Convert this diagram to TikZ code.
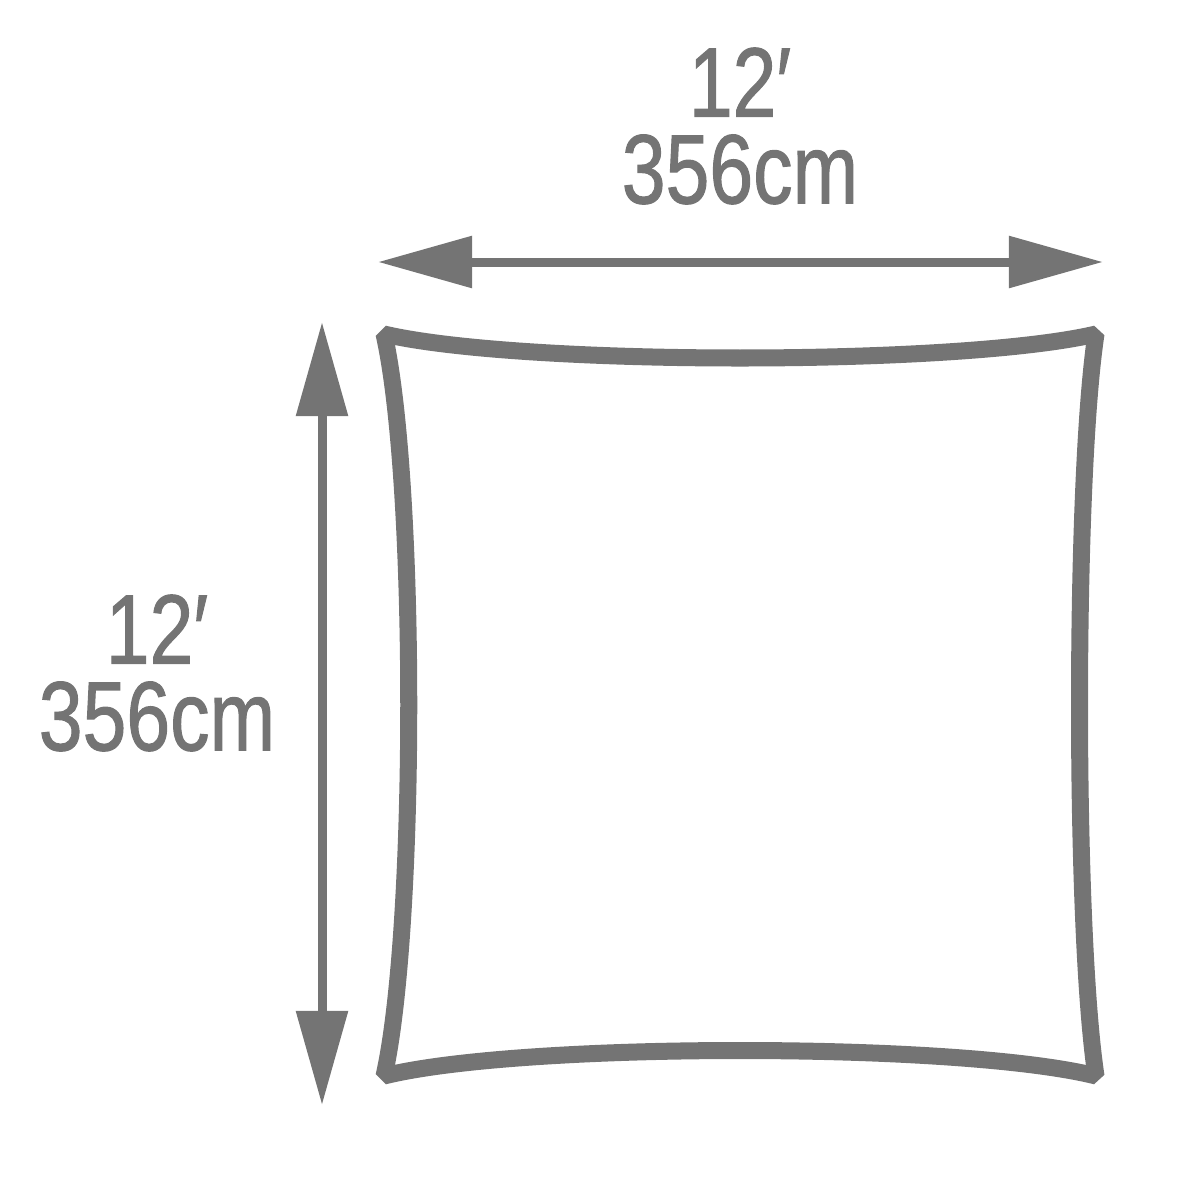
\documentclass[tikz,border=0pt]{standalone}
\usepackage{fontspec}
\setmainfont{Liberation Sans}
\newfontfamily\lblfont[FakeBold=1.2]{Liberation Sans}
\usetikzlibrary{arrows.meta}
\definecolor{ink}{HTML}{747474}
\newcommand{\narrowtxt}[1]{\scalebox{0.8}[1]{#1}}
\tikzset{
  dim/.style={draw=ink, line width=0.09cm, {Triangle[length=0.94cm,width=0.5cm]}-{Triangle[length=0.94cm,width=0.5cm]}},
  sail/.style={draw=ink, line width=0.17cm, line join=bevel},
  lbl/.style={text=ink, font=\lblfont\fontsize{28}{24.7}\selectfont, align=center, inner sep=0pt, anchor=south}
}
\begin{document}
\begin{tikzpicture}[x=0.01cm, y=-0.01cm]
\useasboundingbox (0,0) rectangle (1200,1200);
% dimension arrows
\coordinate (hl) at (378,262);
\coordinate (hr) at (1103,262);
\coordinate (vt) at (322,322);
\coordinate (vb) at (322,1105);
\draw[dim] (hl) -- (hr);
\draw[dim] (vt) -- (vb);
% sail
\coordinate (tl) at (384,334);
\coordinate (tr) at (1096,334);
\coordinate (br) at (1096,1076);
\coordinate (bl) at (384,1076);
\draw[sail] (tl) .. controls (520,366) and (960,366) .. (tr)
  .. controls (1074,480) and (1074,930) .. (br)
  .. controls (960,1042) and (520,1042) .. (bl)
  .. controls (417,930) and (417,480) .. (tl) -- cycle;
% labels
\node[lbl] (toplbl) at (740,205) {\narrowtxt{12′}\\\narrowtxt{356cm}};
\node[lbl] (leftlbl) at (157,752) {\narrowtxt{12′}\\\narrowtxt{356cm}};
\end{tikzpicture}
\end{document}
